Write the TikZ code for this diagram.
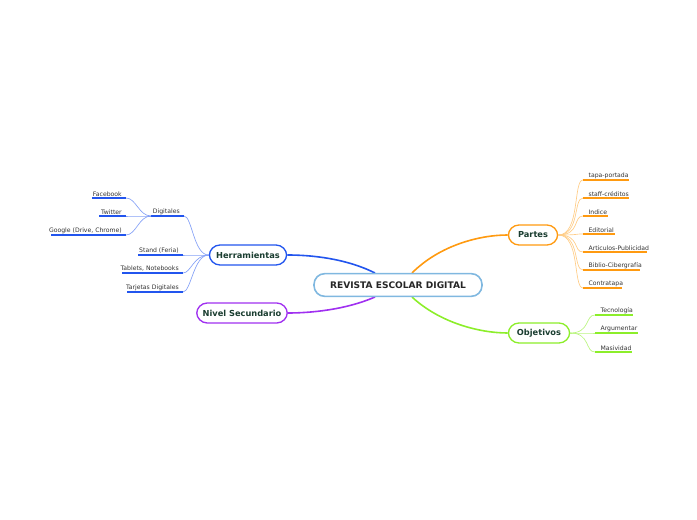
\documentclass[tikz,border=0pt]{standalone}
\usepackage{fontspec}
\setmainfont{DejaVu Sans}
\begin{document}
\begin{tikzpicture}[x=0.75pt,y=-0.75pt]
\definecolor{cb}{HTML}{2255EE}
\definecolor{cp}{HTML}{A030F0}
\definecolor{co}{HTML}{FF9A10}
\definecolor{cg}{HTML}{8CEE2A}
\definecolor{cc}{HTML}{80B8E0}
\definecolor{tg}{HTML}{1A3D30}
\tikzset{
 main/.style={draw,rounded corners=8pt,line width=1pt,fill=white,font=\bfseries\fontsize{6.2}{7}\selectfont,text=tg,minimum height=15pt,inner xsep=0pt},
 leaf/.style={font=\fontsize{4.6}{5}\selectfont,text=black!80,inner sep=1pt,anchor=south west},
 leafr/.style={font=\fontsize{4.6}{5}\selectfont,text=black!80,inner sep=1pt,anchor=south east},
 ul/.style={line width=1.3pt},
 br/.style={line width=0.5pt}
}
\useasboundingbox (0,0) rectangle (697,520);
% leaf coordinates
\foreach \n/\y/\r in {1/180/629,2/198/629,3/216/608,4/234/615,5/252/647,6/270/640,7/288/622}{
  \coordinate (pa\n) at (583,\y); \coordinate (pb\n) at (\r,\y);}
\foreach \n/\y/\r in {1/315/633,2/333/638,3/352/632}{
  \coordinate (oa\n) at (595,\y); \coordinate (ob\n) at (\r,\y);}
\coordinate (da) at (184,216); \coordinate (db) at (151,216);
\foreach \n/\y/\l in {1/198/92,2/216/99,3/235/51}{
  \coordinate (fa\n) at (126,\y); \coordinate (fb\n) at (\l,\y);}
\foreach \n/\y/\l in {1/255/138,2/273/122,3/292/127}{
  \coordinate (ha\n) at (183,\y); \coordinate (hb\n) at (\l,\y);}
% main nodes
\node[main,draw=cb,minimum width=58pt] (her) at (248,255) {Herramientas};
\node[main,draw=cp,minimum width=68pt] (niv) at (242,313) {Nivel Secundario};
\node[main,draw=co,minimum width=37pt] (par) at (533,235) {Partes};
\node[main,draw=cg,minimum width=46pt] (obj) at (539,333) {Objetivos};
% central connectors
\coordinate (c1) at (375,273); \coordinate (c2) at (375,297);
\coordinate (c3) at (412,273); \coordinate (c4) at (412,297);
\draw[cb,line width=1.2pt] (c1) .. controls (345,258) and (310,255) .. (her.east);
\draw[cp,line width=1.2pt] (c2) .. controls (345,310) and (310,313) .. (niv.east);
\draw[co,line width=1.2pt] (c3) .. controls (440,245) and (480,235) .. (par.west);
\draw[cg,line width=1.2pt] (c4) .. controls (440,323) and (480,333) .. (obj.west);
\node[main,draw=cc,line width=1.2pt,minimum width=126pt,minimum height=17pt,text=black!85,font=\bfseries\fontsize{6.8}{7}\selectfont] (cen) at (398,285) {REVISTA ESCOLAR DIGITAL};
% Partes
\foreach \n/\t in {1/tapa-portada,2/staff-créditos,3/Indice,4/Editorial,5/Articulos-Publicidad,6/Biblio-Cibergrafía,7/Contratapa}{
  \draw[co!50,br] (par.east) .. controls +(22,0) and +(-10,0) .. (pa\n);
  \draw[co,ul] (pa\n) -- (pb\n);
  \node[leaf] (pt\n) at ([xshift=3pt]pa\n) {\t};}
% Objetivos
\foreach \n/\t in {1/Tecnología,2/Argumentar,3/Masividad}{
  \draw[cg!60,br] (obj.east) .. controls +(20,0) and +(-10,0) .. (oa\n);
  \draw[cg,ul] (oa\n) -- (ob\n);
  \node[leaf] (ot\n) at ([xshift=3pt]oa\n) {\t};}
% Herramientas
\draw[cb!55,br] (her.west) .. controls +(-15,0) and +(8,0) .. (da);
\draw[cb,ul] (da) -- (db);
\node[leafr] (dt) at ([xshift=-2pt]da) {Digitales};
\foreach \n/\t in {1/Facebook,2/Twitter,3/{Google (Drive, Chrome)}}{
  \draw[cb!55,br] (db) .. controls +(-12,0) and +(10,0) .. (fa\n);
  \draw[cb,ul] (fa\n) -- (fb\n);
  \node[leafr] (ft\n) at ([xshift=-2pt]fa\n) {\t};}
\foreach \n/\t in {1/Stand (Feria),2/{Tablets, Notebooks},3/Tarjetas Digitales}{
  \draw[cb!55,br] (her.west) .. controls +(-15,0) and +(8,0) .. (ha\n);
  \draw[cb,ul] (ha\n) -- (hb\n);
  \node[leafr] (ht\n) at ([xshift=-2pt]ha\n) {\t};}
\end{tikzpicture}
\end{document}
